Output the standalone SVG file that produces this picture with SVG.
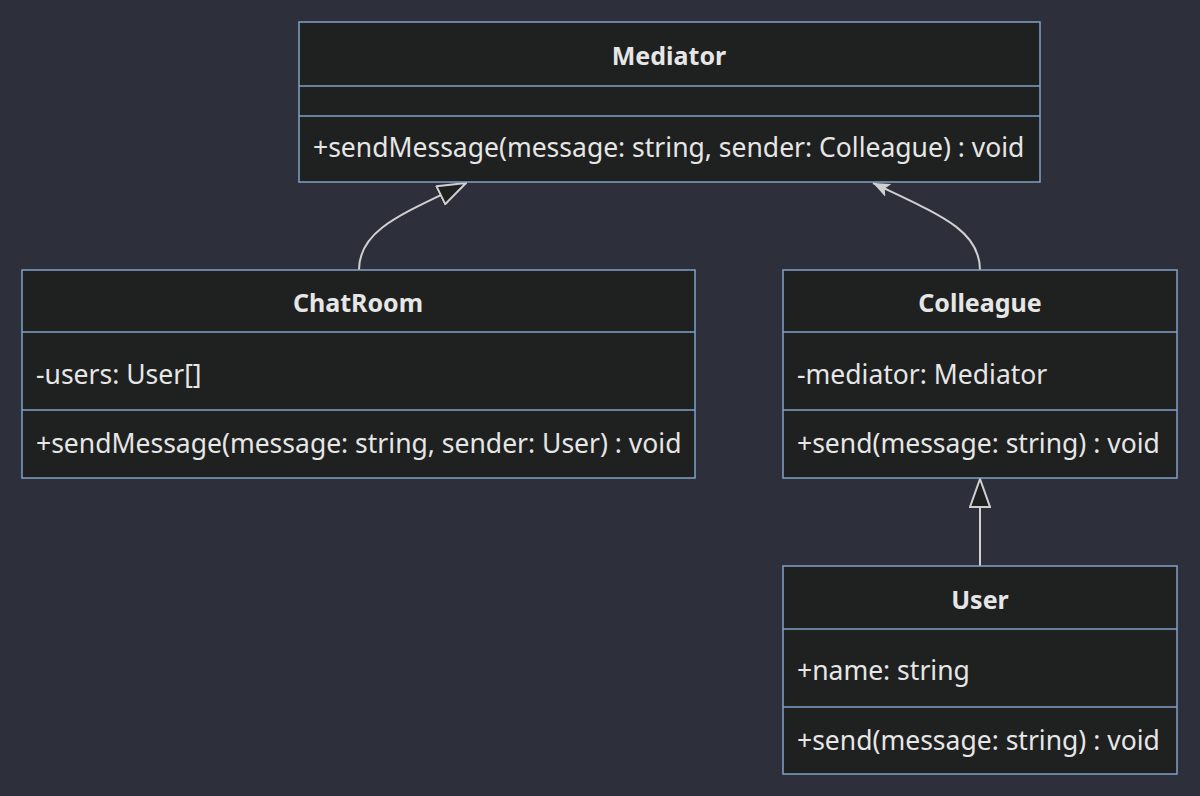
<svg xmlns="http://www.w3.org/2000/svg" width="1200" height="796" viewBox="0 0 1200 796">
<style>
.box{fill:#1f2020;stroke:#81a1c9;stroke-width:1.5}
.div{stroke:#81a1c9;stroke-width:1.5}
text{font-family:"Noto Sans","DejaVu Sans",sans-serif;font-size:26.5px;fill:#e6e6e6}
.t{font-weight:bold;text-anchor:middle;font-size:25px}
.e{fill:none;stroke:#d0d0d0;stroke-width:2}
</style>
<defs>
<marker id="tri" viewBox="0 0 30 22" refX="29" refY="11" markerWidth="30" markerHeight="22" markerUnits="userSpaceOnUse" orient="auto"><path d="M1,1 L29,11 L1,21 Z" fill="#1f2020" stroke="#d0d0d0" stroke-width="2"/></marker>
<marker id="arr" viewBox="0 0 18 16" refX="17" refY="8" markerWidth="18" markerHeight="16" markerUnits="userSpaceOnUse" orient="auto"><path d="M0,1 L17,8 L0,15 L4,8 Z" fill="#d0d0d0"/></marker>
</defs>
<rect width="1200" height="796" fill="#2d303b"/>
<g id="edges">
<path class="e" d="M359,270 C359,230 400,215 466,183" marker-end="url(#tri)"/>
<path class="e" d="M980,270 C980,230 940,215 873,183" marker-end="url(#arr)"/>
<path class="e" d="M980,566 L980,479" marker-end="url(#tri)"/>
</g>
<g id="Mediator">
<rect class="box" x="299" y="22" width="741" height="160"/>
<line class="div" x1="299" y1="86" x2="1040" y2="86"/>
<line class="div" x1="299" y1="116" x2="1040" y2="116"/>
<text class="t" x="669" y="65">Mediator</text>
<text x="313" y="157">+sendMessage(message: string, sender: Colleague) : void</text>
</g>
<g id="ChatRoom">
<rect class="box" x="22" y="270" width="673" height="208"/>
<line class="div" x1="22" y1="332" x2="695" y2="332"/>
<line class="div" x1="22" y1="410" x2="695" y2="410"/>
<text class="t" x="358" y="312">ChatRoom</text>
<text x="36" y="384">-users: User[]</text>
<text x="36" y="453">+sendMessage(message: string, sender: User) : void</text>
</g>
<g id="Colleague">
<rect class="box" x="783" y="270" width="394" height="208"/>
<line class="div" x1="783" y1="332" x2="1177" y2="332"/>
<line class="div" x1="783" y1="410" x2="1177" y2="410"/>
<text class="t" x="980" y="312">Colleague</text>
<text x="797" y="384">-mediator: Mediator</text>
<text x="797" y="453">+send(message: string) : void</text>
</g>
<g id="User">
<rect class="box" x="783" y="566" width="394" height="208"/>
<line class="div" x1="783" y1="629" x2="1177" y2="629"/>
<line class="div" x1="783" y1="707" x2="1177" y2="707"/>
<text class="t" x="980" y="609">User</text>
<text x="797" y="680">+name: string</text>
<text x="797" y="750">+send(message: string) : void</text>
</g>
</svg>
